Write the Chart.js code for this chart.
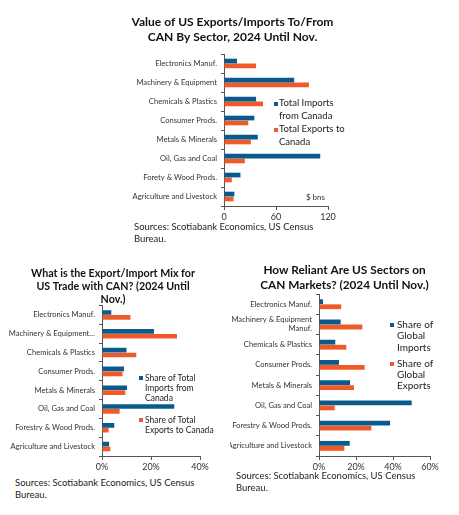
<!DOCTYPE html>
<html>
<head>
<meta charset="utf-8">
<script src="https://cdn.jsdelivr.net/npm/chart.js@4"></script>
<style>
  body { margin: 0; background: #fff; font-family: Lato, sans-serif; color: #222; }
  #wrap { position: relative; width: 459px; height: 515px; overflow: hidden; }
  canvas { position: absolute; }
  .note { position: absolute; line-height: 11.5px; font-size: 9.5px; color: #222; }
  .leg { position: absolute; color: #222; }
  .leg div { position: relative; }
  .leg i { position: absolute; width: 3.5px; height: 3.5px; }
</style>
</head>
<body>
<div id="wrap">
  <canvas id="topChart" width="265" height="226" style="left:100px;top:0px"></canvas>
  <canvas id="mixChart" width="226" height="231" style="left:0px;top:245px"></canvas>
  <canvas id="relChart" width="237" height="231" style="left:222px;top:245px"></canvas>

  <div class="leg" style="left:279px;top:97px;font-size:9.5px;line-height:12.5px">
    <div><i style="background:#0b5a8c;left:-5px;top:5px"></i>Total Imports<br>from Canada</div>
    <div style="margin-top:1px"><i style="background:#f05a28;left:-5px;top:5px"></i>Total Exports to<br>Canada</div>
  </div>
  <div class="leg" style="left:145px;top:373px;font-size:8.5px;line-height:10px">
    <div><i style="background:#0b5a8c;left:-6px;top:3px"></i>Share of Total<br>Imports from<br>Canada</div>
    <div style="margin-top:12px"><i style="background:#f05a28;left:-6px;top:3px"></i>Share of Total<br>Exports to Canada</div>
  </div>
  <div class="leg" style="left:397px;top:319px;font-size:10px;line-height:11.3px">
    <div><i style="background:#0b5a8c;left:-7px;top:4px;width:4px;height:4px"></i>Share of<br>Global<br>Imports</div>
    <div style="margin-top:5px"><i style="background:#f05a28;left:-7px;top:4px;width:4px;height:4px"></i>Share of<br>Global<br>Exports</div>
  </div>

  <div class="note" style="left:134px;top:221px">Sources: Scotiabank Economics, US Census<br>Bureau.</div>
  <div class="note" style="left:15px;top:477px">Sources: Scotiabank Economics, US Census<br>Bureau.</div>
  <div class="note" style="left:236px;top:470px">Sources: Scotiabank Economics, US Census<br>Bureau.</div>
</div>
<script>
// Value of exports/imports, $ bns
const topCats = ['Electronics Manuf.', 'Machinery & Equipment', 'Chemicals & Plastics', 'Consumer Prods.',
  'Metals & Minerals', 'Oil, Gas and Coal', 'Forety & Wood Prods.', 'Agriculture and Livestock'];
const topImports = [15, 81, 37, 35, 39, 111, 19, 12];
const topExports = [37, 98, 45, 28, 31, 24, 9, 11];
const topTicks = [0, 60, 120];

// Export/import mix, % of total
const mixCats = ['Electronics Manuf.', 'Machinery & Equipment…', 'Chemicals & Plastics', 'Consumer Prods.',
  'Metals & Minerals', 'Oil, Gas and Coal', 'Forestry & Wood Prods.', 'Agriculture and Livestock'];
const mixImports = [3.8, 21.2, 10, 9, 10.2, 29.5, 5, 2.9];
const mixExports = [11.6, 30.6, 14, 8.4, 9.5, 7.2, 2.7, 3.4];
const mixTicks = [0, 20, 40];

// Reliance on CAN, % of global
const relCats = ['Electronics Manuf.', ['Machinery & Equipment', 'Manuf.'], 'Chemicals & Plastics', 'Consumer Prods.',
  'Metals & Minerals', 'Oil, Gas and Coal', 'Forestry & Wood Prods.', 'Agriculture and Livestock'];
const relImports = [2.2, 11.7, 8.8, 10.8, 16.8, 50.1, 38.4, 16.6];
const relExports = [12, 23.4, 14.8, 24.7, 18.9, 8.5, 28.3, 13.7];
const relTicks = [0, 20, 40, 60];

const BLUE = '#0b5a8c';
const ORANGE = '#f05a28';
const AXIS = '#555';

function makeChart(id, cfg) {
  new Chart(document.getElementById(id), {
    type: 'bar',
    data: {
      labels: cfg.labels,
      datasets: [
        { data: cfg.imports, backgroundColor: BLUE, categoryPercentage: cfg.catPct, barPercentage: 0.95 },
        { data: cfg.exports, backgroundColor: ORANGE, categoryPercentage: cfg.catPct, barPercentage: 0.95 }
      ]
    },
    options: {
      indexAxis: 'y',
      responsive: false,
      animation: false,
      devicePixelRatio: 1,
      layout: { padding: { left: cfg.padLeft || 0 } },
      plugins: {
        legend: { display: false },
        tooltip: { enabled: false },
        title: {
          display: true,
          text: cfg.title,
          color: '#111',
          font: { family: 'Lato', size: cfg.titleSize, weight: 'bold', lineHeight: cfg.titleLH },
          padding: { top: cfg.titleTop, bottom: cfg.titleBottom }
        }
      },
      scales: {
        x: {
          min: cfg.ticks[0],
          max: cfg.ticks[cfg.ticks.length - 1],
          afterFit: (s) => { s.height = 20; s.paddingRight = cfg.padRight; },
          grid: { drawOnChartArea: false, tickLength: 4, color: AXIS },
          border: { color: AXIS },
          ticks: {
            stepSize: cfg.ticks[1] - cfg.ticks[0],
            color: '#333',
            padding: 2,
            autoSkip: false,
            maxRotation: 0,
            font: { family: 'Lato', size: 9 },
            callback: (v) => v + cfg.suffix
          }
        },
        y: {
          afterFit: (s) => { s.width = cfg.yWidth; },
          grid: { drawOnChartArea: false, tickLength: 3, color: AXIS, offset: true },
          border: { color: AXIS },
          ticks: {
            color: '#333',
            padding: 4,
            autoSkip: false,
            font: { family: 'Lato', size: 7.6 }
          }
        }
      }
    },
    plugins: cfg.unit ? [{
      id: 'unit',
      afterDraw(chart) {
        const { ctx, chartArea } = chart;
        ctx.save();
        ctx.font = '8px Lato';
        ctx.fillStyle = '#333';
        ctx.textAlign = 'right';
        ctx.textBaseline = 'middle';
        ctx.fillText(cfg.unit, chartArea.right - 3, chartArea.bottom - 9);
        ctx.restore();
      }
    }] : []
  });
}

makeChart('topChart', {
  labels: topCats, imports: topImports, exports: topExports, ticks: topTicks, suffix: '',
  title: ['Value of US Exports/Imports To/From', 'CAN By Sector, 2024 Until Nov.'],
  titleSize: 12, titleLH: 1.25, titleTop: 15, titleBottom: 9,
  yWidth: 124, padRight: 37, catPct: 0.52, unit: '$ bns'
});

makeChart('mixChart', {
  labels: mixCats, imports: mixImports, exports: mixExports, ticks: mixTicks, suffix: '%',
  title: ['What is the Export/Import Mix for', 'US Trade with CAN? (2024 Until', 'Nov.)'],
  titleSize: 10.7, titleLH: 1.18, titleTop: 22.7, titleBottom: 0,
  yWidth: 102, padRight: 26, catPct: 0.52
});

makeChart('relChart', {
  labels: relCats, imports: relImports, exports: relExports, ticks: relTicks, suffix: '%',
  title: ['How Reliant Are US Sectors on', 'CAN Markets? (2024 Until Nov.)'],
  titleSize: 11.8, titleLH: 1.22, titleTop: 18.3, titleBottom: 2,
  yWidth: 89, padLeft: 8, padRight: 29, catPct: 0.5
});
</script>
</body>
</html>
